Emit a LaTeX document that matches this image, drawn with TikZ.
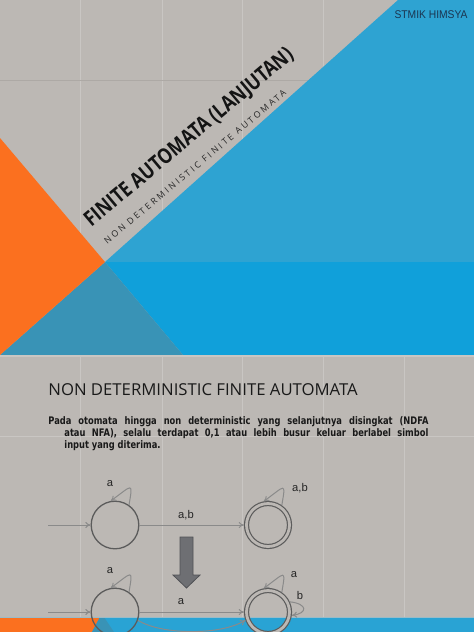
\documentclass[tikz,border=0pt]{standalone}
\usepackage{fontspec}
\usepackage{graphicx}
\setmainfont{Liberation Sans}
\newfontfamily\titlef{Open Sans}
\newfontfamily\subf[LetterSpace=28]{Open Sans}
\newfontfamily\headf{Open Sans}
\newfontfamily\bodyf{DejaVu Sans}
\usetikzlibrary{arrows.meta}
\definecolor{bggray}{HTML}{BCB8B4}
\definecolor{gridlight}{HTML}{C9C6C3}
\definecolor{griddark}{HTML}{ADA9A5}
\definecolor{blueup}{HTML}{2EA3D2}
\definecolor{bluelow}{HTML}{10A0DA}
\definecolor{tealc}{HTML}{3993B6}
\definecolor{orangec}{HTML}{FB701F}
\definecolor{bandblue}{HTML}{29A3D4}
\definecolor{navy}{HTML}{1B3550}
\definecolor{stcol}{HTML}{5C5C5C}
\definecolor{edgecol}{HTML}{8A8A8A}
\definecolor{arrowfill}{HTML}{6E6F73}
\definecolor{arrowdraw}{HTML}{505155}
\tikzset{
  gridv/.style={draw=gridlight, line width=0.5pt},
  gridh/.style={draw=griddark, line width=0.5pt},
  stnode/.style={circle, draw=stcol, line width=0.65pt, minimum size=23.8pt, inner sep=0pt},
  accnode/.style={circle, draw=stcol, line width=0.6pt, double=bggray, double distance=1.4pt, minimum size=21.5pt, inner sep=0pt, outer sep=1.3pt},
  edge/.style={draw=edgecol, line width=0.5pt, -{To[length=2.6pt,width=3pt]}},
  lbl/.style={inner sep=0pt, font=\fontsize{5.6}{6}\selectfont, text=black!85},
}
\begin{document}
\begin{tikzpicture}[x=0.5pt,y=-0.5pt]
\useasboundingbox (0,0) rectangle (474,632);
\clip (0,0) rectangle (474,632);
% backgrounds
\fill[bggray] (0,0) rectangle (474,632);
% slide 1 grid
\foreach \gx in {80,162,242,323,404} \draw[gridv] (\gx,0) -- (\gx,355);
\draw[gridh] (0,80) -- (474,80);
% slide 1 colour blocks
\fill[blueup] (398,0) -- (474,0) -- (474,262) -- (105,262) -- cycle;
\fill[bluelow] (105,262) -- (474,262) -- (474,355) -- (183,355) -- cycle;
\fill[tealc] (105,262) -- (183,355) -- (0,355) -- cycle;
\fill[orangec] (0,138) -- (105,262) -- (0,355) -- cycle;
\draw[draw=gridlight, line width=0.6pt] (0,356) -- (474,356);
% slide 1 texts
\node[anchor=base east, inner sep=0pt, text=navy] (school) at (468,18)
  {\scalebox{0.92}[1]{\fontsize{5.6}{6}\selectfont STMIK HIMSYA}};
\node[anchor=base west, rotate=40, inner sep=0pt, text=black!92] (title) at (91,228)
  {\scalebox{0.83}[1]{\fontsize{10.6}{12}\selectfont\titlef\bfseries FINITE AUTOMATA (LANJUTAN)}};
\node[anchor=base west, rotate=40, inner sep=0pt, text=black!85] (subtitle) at (107,245)
  {\fontsize{4.4}{5}\selectfont\subf NON DETERMINISTIC FINITE AUTOMATA};
% slide 2 grid
\foreach \gx in {80,162,242,323,404} \draw[gridv] (\gx,357) -- (\gx,632);
\draw[gridv] (0,436) -- (474,436);
% slide 2 texts
\node[anchor=base west, inner sep=0pt, text=black!90] (heading) at (48,395)
  {\scalebox{1.02}[1]{\fontsize{8.2}{9}\selectfont\headf NON DETERMINISTIC FINITE AUTOMATA}};
\node[anchor=base west, inner sep=0pt, text=black!90] (para) at (48,424)
  {\scalebox{0.8}[1]{\parbox[t]{237.5pt}{\fontsize{5.2}{6.2}\selectfont\bodyf\bfseries
   \hangindent=10pt\hangafter=1 Pada otomata hingga non deterministic yang selanjutnya disingkat (NDFA\linebreak
   atau NFA), selalu terdapat 0,1 atau lebih busur keluar berlabel simbol\linebreak
   input yang diterima.\par}}};
% bottom band (next slide)
\fill[bandblue] (0,617) rectangle (474,632);
\fill[orangec] (0,617) -- (100,617) -- (92,632) -- (0,632) -- cycle;
\fill[tealc] (100,617) -- (104,617) -- (114,632) -- (92,632) -- cycle;
\draw[draw=gridlight!70!bandblue, line width=0.5pt] (0,617) -- (474,617);
% down arrow
\filldraw[fill=arrowfill, draw=arrowdraw, line width=0.4pt]
  (180,537) -- (193,537) -- (193,575) -- (200,575) -- (186.5,588) -- (173,575) -- (180,575) -- cycle;
% automaton 1
\node[stnode] (q0) at (115,525) {};
\node[accnode] (q1) at (268,525) {};
\coordinate (in0) at (48,525);
\draw[edge] (in0) -- (q0.west);
\draw[edge] (q0.east) -- (q1.west);
\draw[edge] (q0.55) .. controls +(4,-24) and +(22,-16) .. (q0.100);
\draw[edge] (q1.55) .. controls +(4,-24) and +(22,-16) .. (q1.100);
\node[lbl] (l0) at (110,484) {a};
\node[lbl] (l1) at (186,515) {a,b};
\node[lbl] (l2) at (300,488) {a,b};
% automaton 2
\node[stnode] (q2) at (115,612) {};
\node[accnode] (q3) at (268,612) {};
\coordinate (in1) at (48,612);
\draw[edge] (in1) -- (q2.west);
\draw[edge] (q2.east) -- (q3.west);
\draw[edge] (q2.55) .. controls +(4,-24) and +(22,-16) .. (q2.100);
\draw[edge] (q3.55) .. controls +(4,-24) and +(22,-16) .. (q3.100);
\draw[edge] (q3.25) .. controls +(18,2) and +(16,-2) .. (q3.-8);
\draw[edge] (q2.-20) .. controls +(25,15) and +(-25,15) .. (q3.-160);
\node[lbl] (l3) at (110,571) {a};
\node[lbl] (l4) at (181,602) {a};
\node[lbl] (l5) at (294,575) {a};
\node[lbl] (l6) at (300,595) {b};
\end{tikzpicture}
\end{document}
